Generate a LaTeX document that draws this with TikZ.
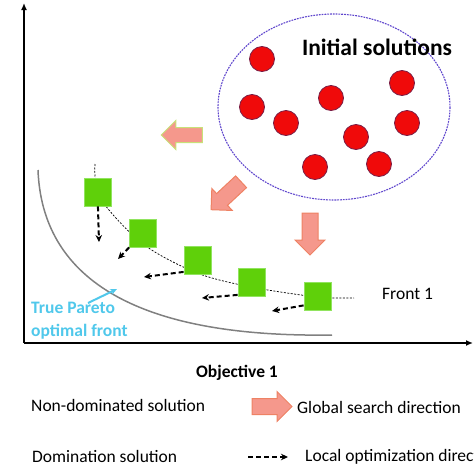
\documentclass[tikz,border=0pt]{standalone}
\usepackage{fontspec}
\setmainfont{Carlito}
\usetikzlibrary{arrows.meta}
\usetikzlibrary{shapes.arrows}
\definecolor{solred}{RGB}{240,10,10}
\definecolor{soledge}{RGB}{120,30,70}
\definecolor{frontgreen}{RGB}{95,208,10}
\definecolor{frontedge}{RGB}{145,228,95}
\definecolor{searchfill}{RGB}{245,152,140}
\definecolor{searchedge}{RGB}{238,130,100}
\definecolor{searchlime}{RGB}{200,225,120}
\definecolor{poolblue}{RGB}{95,70,205}
\definecolor{paretocyan}{RGB}{80,200,235}

\begin{document}
\begin{tikzpicture}[x=1pt, y=-1pt,
    initsol/.style={circle, draw=soledge, fill=solred, line width=0.8pt, inner sep=0pt, minimum size=25pt},
    nondom/.style={rectangle, draw=frontedge, fill=frontgreen, line width=0.8pt, inner sep=0pt, minimum width=27pt, minimum height=28pt},
    gsearch/.style={single arrow, draw=searchedge, fill=searchfill, line width=1pt, inner xsep=0pt, inner ysep=7.5pt, single arrow head extend=7pt, minimum height=41pt},
    lsearch/.style={line width=2pt, dash pattern=on 5pt off 3pt, -{Stealth[length=7pt, width=6.5pt]}},
    axis/.style={line width=1.8pt, -{Latex[length=7pt, width=6pt]}},
    txt/.style={inner sep=0pt, font=\fontsize{17.5}{21}\selectfont}
  ]
  \clip (0,0) rectangle (474,474);

  \coordinate (o) at (24,343);
  \coordinate (ytop) at (24,3);
  \coordinate (xend) at (473,343);
  \draw[axis] (o) -- (ytop);
  \draw[axis] (o) -- (xend);

  \draw[gray, line width=1.5pt] (38,170) .. controls (42,275) and (130,338) .. (332,335);

  \draw[poolblue, line width=1.1pt, dash pattern=on 1.8pt off 1pt] (334,107) ellipse [x radius=116, y radius=93];
  \node[txt, font=\fontsize{23.5}{26}\selectfont\bfseries] (init) at (377,47) {Initial solutions};
  \node[initsol] (r1) at (262,59) {};
  \node[initsol] (r2) at (252,107) {};
  \node[initsol] (r3) at (286,123) {};
  \node[initsol] (r4) at (331,98) {};
  \node[initsol] (r5) at (402,83) {};
  \node[initsol] (r6) at (407,123) {};
  \node[initsol] (r7) at (356,137) {};
  \node[initsol] (r8) at (315,167) {};
  \node[initsol] (r9) at (379,164) {};

  \node[gsearch, draw=searchlime, rotate=180, inner ysep=7pt] (gl) at (185.5,135) {};
  \node[gsearch, rotate=223] (gd) at (229,193) {};
  \node[gsearch, rotate=-90, minimum height=42pt] (gv) at (310,230) {};

  \coordinate (f0) at (95,164);
  \coordinate (f1) at (100,198);
  \coordinate (f2) at (143,244);
  \coordinate (f3) at (197,273);
  \coordinate (f4) at (251,287);
  \coordinate (f5) at (317,297);
  \coordinate (f6) at (354,298);
  \draw[line width=0.7pt, dash pattern=on 2pt off 1.5pt] plot[smooth, tension=0.5] coordinates {(f0) (f1) (f2) (f3) (f4) (f5) (f6)};

  \node[nondom] (s1) at (97.5,192) {};
  \node[nondom] (s2) at (143,233) {};
  \node[nondom] (s3) at (197.5,260.5) {};
  \node[nondom] (s4) at (251.5,282.5) {};
  \node[nondom] (s5) at (317.5,296) {};

  \coordinate (l1) at (99,242);
  \coordinate (l2) at (118,259);
  \coordinate (l3) at (144,277);
  \coordinate (l4) at (202,298);
  \coordinate (l5) at (272,311);
  \draw[lsearch] (s1) -- (l1);
  \draw[lsearch] (s2) -- (l2);
  \draw[lsearch] ([yshift=3pt]s3.south west) -- (l3);
  \draw[lsearch] ([yshift=2pt]s4.south west) -- (l4);
  \draw[lsearch] ([yshift=5pt]s5.south west) -- (l5);

  \node[txt, anchor=west] (front) at (382,294) {Front 1};

  \node[txt, anchor=west, align=left, text=paretocyan, font=\fontsize{17.5}{23}\selectfont\bfseries] (pareto) at (31,320.5) {True Pareto\\optimal front};
  \coordinate (pa) at (88,303);
  \coordinate (pf) at (117,289);
  \draw[paretocyan, line width=2pt, -{Stealth[length=7pt, width=6pt]}] (pa) -- (pf);

  \node[txt, font=\fontsize{17.5}{21}\selectfont\bfseries] (obj) at (237,373) {Objective 1};
  \node[txt, anchor=west] (nd) at (31,405) {Non-dominated solution};
  \node[gsearch, minimum height=40pt] (gk) at (268,406.5) {};
  \node[txt, anchor=west] (gtxt) at (297,407) {Global search direction};
  \node[txt, anchor=west] (dm) at (32,456) {Domination solution};
  \coordinate (k0) at (248,457);
  \coordinate (k1) at (288,457);
  \draw[lsearch] (k0) -- (k1);
  \node[txt, anchor=west] (ltxt) at (305,457) {Local optimization direction};
\end{tikzpicture}
\end{document}
